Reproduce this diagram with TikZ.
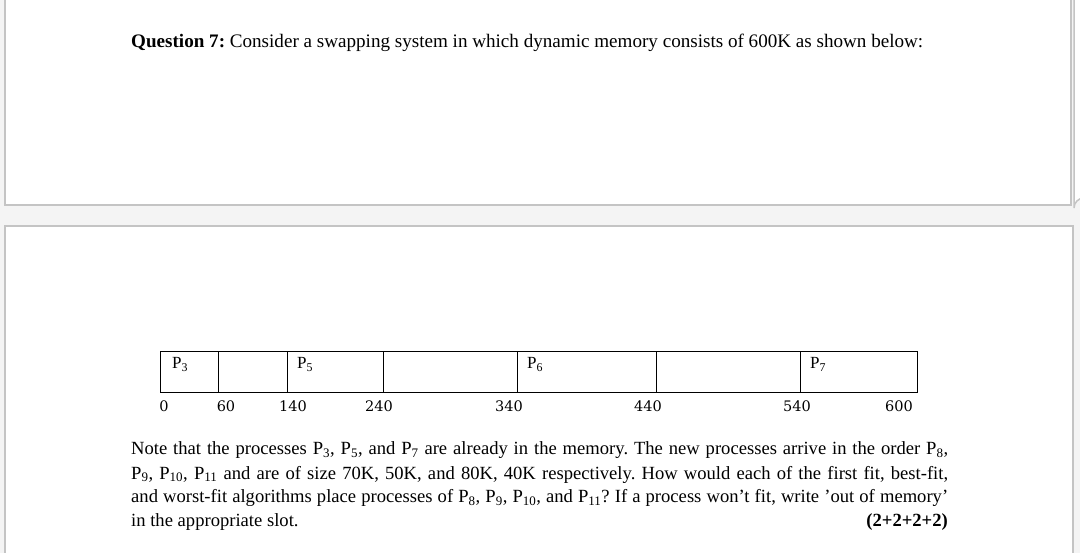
\documentclass[tikz,border=0pt]{standalone}
\usepackage{fontspec}
\setmainfont{Liberation Serif}
\newfontfamily\numfont{DejaVu Serif}
\definecolor{pagebg}{HTML}{F4F4F4}
\definecolor{panelline}{HTML}{C4C4C4}
\definecolor{darkline}{HTML}{B0B0B0}
\begin{document}
\frenchspacing
\begin{tikzpicture}[x=1pt,y=-1pt,
  txt/.style={inner sep=0pt, anchor=base west, font=\fontsize{18.6}{21}\selectfont},
  qtxt/.style={inner sep=0pt, anchor=base west, font=\fontsize{19.1}{21}\selectfont},
  plabel/.style={inner sep=0pt, anchor=base west, font=\fontsize{17}{19}\selectfont},
  num/.style={inner sep=0pt, anchor=base, font=\numfont\fontsize{14.5}{16}\selectfont},
  panel/.style={fill=white, draw=panelline, line width=2pt},
  memline/.style={draw=black, line width=1pt}]
\useasboundingbox (0,0) rectangle (1080,553);
\fill[pagebg] (0,0) rectangle (1080,553);
% right-side element (rounded corner)
\fill[white] (1074,-5) -- (1074,208) arc[start angle=180, end angle=270, radius=10] -- (1085,218) -- (1085,-5) -- cycle;
\draw[panelline, line width=1.5pt] (1074,-5) -- (1074,208) arc[start angle=180, end angle=270, radius=10] -- (1085,218);
% top panel
\draw[panel] (4.5,-5) rectangle (1070.5,205);
% bottom panel
\draw[panel] (4.5,226) rectangle (1073,560);

% question line
\node[qtxt] (q) at (131,48) {\textbf{Question 7:} Consider a swapping system in which dynamic memory consists of 600K as shown below:};

% memory bar
\draw[memline] (160.5,351.5) rectangle (917,392.5);
\foreach \x in {218.5,287.5,383.5,517.5,656.5,800.5}
  \draw[memline] (\x,351.5) -- (\x,392.5);

\node[plabel] (p3) at (172,369) {P\textsubscript{3}};
\node[plabel] (p5) at (297,369) {P\textsubscript{5}};
\node[plabel] (p6) at (527,369) {P\textsubscript{6}};
\node[plabel] (p7) at (810,369) {P\textsubscript{7}};

\node[num] (n0) at (164,412) {0};
\node[num] (n60) at (226,412) {60};
\node[num] (n140) at (293,412) {140};
\node[num] (n240) at (379,412) {240};
\node[num] (n340) at (509,412) {340};
\node[num] (n440) at (648,412) {440};
\node[num] (n540) at (797,412) {540};
\node[num] (n600) at (899,412) {600};

% paragraph
\node[txt] (l1) at (131,455) {\makebox[817pt][s]{Note that the processes P\textsubscript{3}, P\textsubscript{5}, and P\textsubscript{7} are already in the memory. The new processes arrive in the order P\textsubscript{8},}};
\node[txt] (l2) at (131,479) {\makebox[817pt][s]{P\textsubscript{9}, P\textsubscript{10}, P\textsubscript{11} and are of size 70K, 50K, and 80K, 40K respectively. How would each of the first fit, best-fit,}};
\node[txt] (l3) at (131,503) {\makebox[817pt][s]{and worst-fit algorithms place processes of P\textsubscript{8}, P\textsubscript{9}, P\textsubscript{10}, and P\textsubscript{11}? If a process won’t fit, write ’out of memory’}};
\node[txt] (l4) at (131,526) {in the appropriate slot.};
\node[txt, anchor=base east] (marks) at (948,526) {\textbf{(2+2+2+2)}};
\end{tikzpicture}
\end{document}
